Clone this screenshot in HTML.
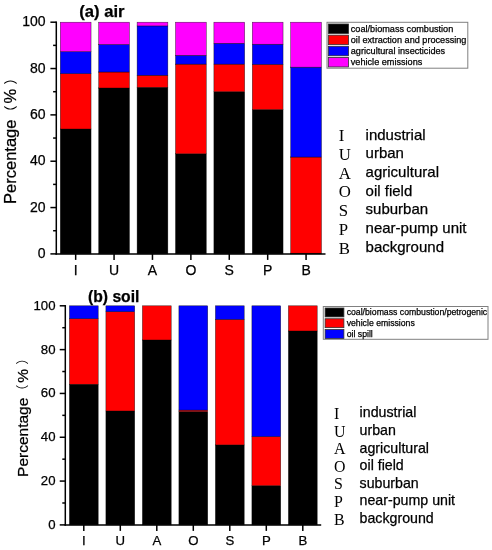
<!DOCTYPE html>
<html><head><meta charset="utf-8"><title>Source apportionment</title>
<style>
html,body{margin:0;padding:0;background:#fff;}
svg{display:block;}
text{font-family:"Liberation Sans","Noto Sans CJK SC",sans-serif;fill:#000;stroke:#000;stroke-width:0.25px;}
text.s{font-family:"Liberation Serif",serif;stroke:none;}
tspan.p{stroke:none;}
</style></head><body>
<svg width="492" height="550" viewBox="0 0 492 550">
<rect x="0" y="0" width="492" height="550" fill="#fff"/>
<rect x="60.30" y="129.01" width="30.75" height="124.89" fill="#000" stroke="#000" stroke-opacity="0.75" stroke-width="0.5"/>
<rect x="60.30" y="73.64" width="30.75" height="55.38" fill="#ff0000" stroke="#000" stroke-opacity="0.75" stroke-width="0.5"/>
<rect x="60.30" y="51.63" width="30.75" height="22.01" fill="#0000ff" stroke="#000" stroke-opacity="0.75" stroke-width="0.5"/>
<rect x="60.30" y="22.20" width="30.75" height="29.43" fill="#ff00ff" stroke="#000" stroke-opacity="0.75" stroke-width="0.5"/>
<rect x="98.70" y="88.00" width="30.75" height="165.90" fill="#000" stroke="#000" stroke-opacity="0.75" stroke-width="0.5"/>
<rect x="98.70" y="72.02" width="30.75" height="15.99" fill="#ff0000" stroke="#000" stroke-opacity="0.75" stroke-width="0.5"/>
<rect x="98.70" y="44.44" width="30.75" height="27.57" fill="#0000ff" stroke="#000" stroke-opacity="0.75" stroke-width="0.5"/>
<rect x="98.70" y="22.20" width="30.75" height="22.24" fill="#ff00ff" stroke="#000" stroke-opacity="0.75" stroke-width="0.5"/>
<rect x="137.10" y="87.31" width="30.75" height="166.59" fill="#000" stroke="#000" stroke-opacity="0.75" stroke-width="0.5"/>
<rect x="137.10" y="75.26" width="30.75" height="12.05" fill="#ff0000" stroke="#000" stroke-opacity="0.75" stroke-width="0.5"/>
<rect x="137.10" y="25.91" width="30.75" height="49.35" fill="#0000ff" stroke="#000" stroke-opacity="0.75" stroke-width="0.5"/>
<rect x="137.10" y="22.20" width="30.75" height="3.71" fill="#ff00ff" stroke="#000" stroke-opacity="0.75" stroke-width="0.5"/>
<rect x="175.50" y="153.81" width="30.75" height="100.09" fill="#000" stroke="#000" stroke-opacity="0.75" stroke-width="0.5"/>
<rect x="175.50" y="64.14" width="30.75" height="89.67" fill="#ff0000" stroke="#000" stroke-opacity="0.75" stroke-width="0.5"/>
<rect x="175.50" y="55.33" width="30.75" height="8.80" fill="#0000ff" stroke="#000" stroke-opacity="0.75" stroke-width="0.5"/>
<rect x="175.50" y="22.20" width="30.75" height="33.13" fill="#ff00ff" stroke="#000" stroke-opacity="0.75" stroke-width="0.5"/>
<rect x="213.90" y="91.71" width="30.75" height="162.19" fill="#000" stroke="#000" stroke-opacity="0.75" stroke-width="0.5"/>
<rect x="213.90" y="64.14" width="30.75" height="27.57" fill="#ff0000" stroke="#000" stroke-opacity="0.75" stroke-width="0.5"/>
<rect x="213.90" y="43.28" width="30.75" height="20.85" fill="#0000ff" stroke="#000" stroke-opacity="0.75" stroke-width="0.5"/>
<rect x="213.90" y="22.20" width="30.75" height="21.08" fill="#ff00ff" stroke="#000" stroke-opacity="0.75" stroke-width="0.5"/>
<rect x="252.30" y="109.55" width="30.75" height="144.35" fill="#000" stroke="#000" stroke-opacity="0.75" stroke-width="0.5"/>
<rect x="252.30" y="64.37" width="30.75" height="45.18" fill="#ff0000" stroke="#000" stroke-opacity="0.75" stroke-width="0.5"/>
<rect x="252.30" y="44.21" width="30.75" height="20.16" fill="#0000ff" stroke="#000" stroke-opacity="0.75" stroke-width="0.5"/>
<rect x="252.30" y="22.20" width="30.75" height="22.01" fill="#ff00ff" stroke="#000" stroke-opacity="0.75" stroke-width="0.5"/>
<rect x="290.70" y="253.20" width="30.75" height="0.70" fill="#000" stroke="#000" stroke-opacity="0.75" stroke-width="0.5"/>
<rect x="290.70" y="157.05" width="30.75" height="96.16" fill="#ff0000" stroke="#000" stroke-opacity="0.75" stroke-width="0.5"/>
<rect x="290.70" y="67.15" width="30.75" height="89.90" fill="#0000ff" stroke="#000" stroke-opacity="0.75" stroke-width="0.5"/>
<rect x="290.70" y="22.20" width="30.75" height="44.95" fill="#ff00ff" stroke="#000" stroke-opacity="0.75" stroke-width="0.5"/>
<line x1="56.30" y1="21.45" x2="56.30" y2="254.65" stroke="#000" stroke-width="1.5"/>
<line x1="55.55" y1="253.90" x2="325.50" y2="253.90" stroke="#000" stroke-width="1.5"/>
<line x1="50.40" y1="253.90" x2="56.30" y2="253.90" stroke="#000" stroke-width="1.5"/>
<text x="45.50" y="258.11" font-size="14" text-anchor="end">0</text>
<line x1="53.10" y1="230.73" x2="56.30" y2="230.73" stroke="#000" stroke-width="1.5"/>
<line x1="50.40" y1="207.56" x2="56.30" y2="207.56" stroke="#000" stroke-width="1.5"/>
<text x="45.50" y="211.77" font-size="14" text-anchor="end">20</text>
<line x1="53.10" y1="184.39" x2="56.30" y2="184.39" stroke="#000" stroke-width="1.5"/>
<line x1="50.40" y1="161.22" x2="56.30" y2="161.22" stroke="#000" stroke-width="1.5"/>
<text x="45.50" y="165.43" font-size="14" text-anchor="end">40</text>
<line x1="53.10" y1="138.05" x2="56.30" y2="138.05" stroke="#000" stroke-width="1.5"/>
<line x1="50.40" y1="114.88" x2="56.30" y2="114.88" stroke="#000" stroke-width="1.5"/>
<text x="45.50" y="119.09" font-size="14" text-anchor="end">60</text>
<line x1="53.10" y1="91.71" x2="56.30" y2="91.71" stroke="#000" stroke-width="1.5"/>
<line x1="50.40" y1="68.54" x2="56.30" y2="68.54" stroke="#000" stroke-width="1.5"/>
<text x="45.50" y="72.75" font-size="14" text-anchor="end">80</text>
<line x1="53.10" y1="45.37" x2="56.30" y2="45.37" stroke="#000" stroke-width="1.5"/>
<line x1="50.40" y1="22.20" x2="56.30" y2="22.20" stroke="#000" stroke-width="1.5"/>
<text x="45.50" y="26.41" font-size="14" text-anchor="end">100</text>
<line x1="75.67" y1="253.90" x2="75.67" y2="259.90" stroke="#000" stroke-width="1.5"/>
<text x="75.67" y="275.30" font-size="14" text-anchor="middle">I</text>
<line x1="114.07" y1="253.90" x2="114.07" y2="259.90" stroke="#000" stroke-width="1.5"/>
<text x="114.07" y="275.30" font-size="14" text-anchor="middle">U</text>
<line x1="152.47" y1="253.90" x2="152.47" y2="259.90" stroke="#000" stroke-width="1.5"/>
<text x="152.47" y="275.30" font-size="14" text-anchor="middle">A</text>
<line x1="190.88" y1="253.90" x2="190.88" y2="259.90" stroke="#000" stroke-width="1.5"/>
<text x="190.88" y="275.30" font-size="14" text-anchor="middle">O</text>
<line x1="229.27" y1="253.90" x2="229.27" y2="259.90" stroke="#000" stroke-width="1.5"/>
<text x="229.27" y="275.30" font-size="14" text-anchor="middle">S</text>
<line x1="267.68" y1="253.90" x2="267.68" y2="259.90" stroke="#000" stroke-width="1.5"/>
<text x="267.68" y="275.30" font-size="14" text-anchor="middle">P</text>
<line x1="306.07" y1="253.90" x2="306.07" y2="259.90" stroke="#000" stroke-width="1.5"/>
<text x="306.07" y="275.30" font-size="14" text-anchor="middle">B</text>
<text x="79.30" y="17.20" font-size="16.6" font-weight="bold">(a) air</text>
<text transform="translate(15.60,203.95) rotate(-90)" font-size="16.5">Percentage<tspan dx="0.44" dy="-1.10" font-size="13.53" class="p">（</tspan><tspan dx="1.96" dy="1.10">%</tspan><tspan dx="4.54" dy="-1.10" font-size="13.53" class="p">）</tspan></text>
<rect x="327.00" y="22.30" width="140.80" height="45.90" fill="#fff" stroke="#808080" stroke-width="1"/>
<rect x="328.30" y="24.00" width="20.30" height="9.50" fill="#000" stroke="#303030" stroke-width="0.8"/>
<text x="350.80" y="31.90" font-size="9.15">coal/biomass combustion</text>
<rect x="328.30" y="35.15" width="20.30" height="9.50" fill="#ff0000" stroke="#303030" stroke-width="0.8"/>
<text x="350.80" y="43.05" font-size="9.15">oil extraction and processing</text>
<rect x="328.30" y="46.30" width="20.30" height="9.50" fill="#0000ff" stroke="#303030" stroke-width="0.8"/>
<text x="350.80" y="54.20" font-size="9.15">agricultural insecticides</text>
<rect x="328.30" y="57.45" width="20.30" height="9.50" fill="#ff00ff" stroke="#303030" stroke-width="0.8"/>
<text x="350.80" y="65.35" font-size="9.15">vehicle emissions</text>
<text x="338.70" y="141.30" font-size="16.8" class="s">I</text>
<text x="365.60" y="139.60" font-size="15">industrial</text>
<text x="338.70" y="160.00" font-size="16.8" class="s">U</text>
<text x="365.60" y="158.30" font-size="15">urban</text>
<text x="338.70" y="178.70" font-size="16.8" class="s">A</text>
<text x="365.60" y="177.00" font-size="15">agricultural</text>
<text x="338.70" y="197.40" font-size="16.8" class="s">O</text>
<text x="365.60" y="195.70" font-size="15">oil field</text>
<text x="338.70" y="216.10" font-size="16.8" class="s">S</text>
<text x="365.60" y="214.40" font-size="15">suburban</text>
<text x="338.70" y="234.80" font-size="16.8" class="s">P</text>
<text x="365.60" y="233.10" font-size="15">near-pump unit</text>
<text x="338.70" y="253.50" font-size="16.8" class="s">B</text>
<text x="365.60" y="251.80" font-size="15">background</text>
<rect x="69.40" y="384.24" width="28.80" height="140.66" fill="#000" stroke="#000" stroke-opacity="0.75" stroke-width="0.5"/>
<rect x="69.40" y="318.73" width="28.80" height="65.51" fill="#ff0000" stroke="#000" stroke-opacity="0.75" stroke-width="0.5"/>
<rect x="69.40" y="305.80" width="28.80" height="12.93" fill="#0000ff" stroke="#000" stroke-opacity="0.75" stroke-width="0.5"/>
<rect x="105.90" y="410.97" width="28.80" height="113.93" fill="#000" stroke="#000" stroke-opacity="0.75" stroke-width="0.5"/>
<rect x="105.90" y="311.72" width="28.80" height="99.25" fill="#ff0000" stroke="#000" stroke-opacity="0.75" stroke-width="0.5"/>
<rect x="105.90" y="305.80" width="28.80" height="5.92" fill="#0000ff" stroke="#000" stroke-opacity="0.75" stroke-width="0.5"/>
<rect x="142.40" y="339.98" width="28.80" height="184.92" fill="#000" stroke="#000" stroke-opacity="0.75" stroke-width="0.5"/>
<rect x="142.40" y="305.80" width="28.80" height="34.18" fill="#ff0000" stroke="#000" stroke-opacity="0.75" stroke-width="0.5"/>
<rect x="178.90" y="411.63" width="28.80" height="113.27" fill="#000" stroke="#000" stroke-opacity="0.75" stroke-width="0.5"/>
<rect x="178.90" y="410.09" width="28.80" height="1.53" fill="#ff0000" stroke="#000" stroke-opacity="0.75" stroke-width="0.5"/>
<rect x="178.90" y="305.80" width="28.80" height="104.29" fill="#0000ff" stroke="#000" stroke-opacity="0.75" stroke-width="0.5"/>
<rect x="215.40" y="444.93" width="28.80" height="79.97" fill="#000" stroke="#000" stroke-opacity="0.75" stroke-width="0.5"/>
<rect x="215.40" y="319.38" width="28.80" height="125.54" fill="#ff0000" stroke="#000" stroke-opacity="0.75" stroke-width="0.5"/>
<rect x="215.40" y="305.80" width="28.80" height="13.58" fill="#0000ff" stroke="#000" stroke-opacity="0.75" stroke-width="0.5"/>
<rect x="251.90" y="485.68" width="28.80" height="39.22" fill="#000" stroke="#000" stroke-opacity="0.75" stroke-width="0.5"/>
<rect x="251.90" y="436.60" width="28.80" height="49.08" fill="#ff0000" stroke="#000" stroke-opacity="0.75" stroke-width="0.5"/>
<rect x="251.90" y="305.80" width="28.80" height="130.80" fill="#0000ff" stroke="#000" stroke-opacity="0.75" stroke-width="0.5"/>
<rect x="288.40" y="331.00" width="28.80" height="193.90" fill="#000" stroke="#000" stroke-opacity="0.75" stroke-width="0.5"/>
<rect x="288.40" y="305.80" width="28.80" height="25.20" fill="#ff0000" stroke="#000" stroke-opacity="0.75" stroke-width="0.5"/>
<line x1="65.30" y1="305.05" x2="65.30" y2="525.65" stroke="#000" stroke-width="1.5"/>
<line x1="64.55" y1="524.90" x2="321.20" y2="524.90" stroke="#000" stroke-width="1.5"/>
<line x1="59.72" y1="524.90" x2="65.30" y2="524.90" stroke="#000" stroke-width="1.5"/>
<text x="55.50" y="528.83" font-size="13.2" text-anchor="end">0</text>
<line x1="62.28" y1="502.99" x2="65.30" y2="502.99" stroke="#000" stroke-width="1.5"/>
<line x1="59.72" y1="481.08" x2="65.30" y2="481.08" stroke="#000" stroke-width="1.5"/>
<text x="55.50" y="485.01" font-size="13.2" text-anchor="end">20</text>
<line x1="62.28" y1="459.17" x2="65.30" y2="459.17" stroke="#000" stroke-width="1.5"/>
<line x1="59.72" y1="437.26" x2="65.30" y2="437.26" stroke="#000" stroke-width="1.5"/>
<text x="55.50" y="441.19" font-size="13.2" text-anchor="end">40</text>
<line x1="62.28" y1="415.35" x2="65.30" y2="415.35" stroke="#000" stroke-width="1.5"/>
<line x1="59.72" y1="393.44" x2="65.30" y2="393.44" stroke="#000" stroke-width="1.5"/>
<text x="55.50" y="397.37" font-size="13.2" text-anchor="end">60</text>
<line x1="62.28" y1="371.53" x2="65.30" y2="371.53" stroke="#000" stroke-width="1.5"/>
<line x1="59.72" y1="349.62" x2="65.30" y2="349.62" stroke="#000" stroke-width="1.5"/>
<text x="55.50" y="353.55" font-size="13.2" text-anchor="end">80</text>
<line x1="62.28" y1="327.71" x2="65.30" y2="327.71" stroke="#000" stroke-width="1.5"/>
<line x1="59.72" y1="305.80" x2="65.30" y2="305.80" stroke="#000" stroke-width="1.5"/>
<text x="55.50" y="309.73" font-size="13.2" text-anchor="end">100</text>
<line x1="83.80" y1="524.90" x2="83.80" y2="530.90" stroke="#000" stroke-width="1.5"/>
<text x="83.80" y="544.80" font-size="13.2" text-anchor="middle">I</text>
<line x1="120.30" y1="524.90" x2="120.30" y2="530.90" stroke="#000" stroke-width="1.5"/>
<text x="120.30" y="544.80" font-size="13.2" text-anchor="middle">U</text>
<line x1="156.80" y1="524.90" x2="156.80" y2="530.90" stroke="#000" stroke-width="1.5"/>
<text x="156.80" y="544.80" font-size="13.2" text-anchor="middle">A</text>
<line x1="193.30" y1="524.90" x2="193.30" y2="530.90" stroke="#000" stroke-width="1.5"/>
<text x="193.30" y="544.80" font-size="13.2" text-anchor="middle">O</text>
<line x1="229.80" y1="524.90" x2="229.80" y2="530.90" stroke="#000" stroke-width="1.5"/>
<text x="229.80" y="544.80" font-size="13.2" text-anchor="middle">S</text>
<line x1="266.30" y1="524.90" x2="266.30" y2="530.90" stroke="#000" stroke-width="1.5"/>
<text x="266.30" y="544.80" font-size="13.2" text-anchor="middle">P</text>
<line x1="302.80" y1="524.90" x2="302.80" y2="530.90" stroke="#000" stroke-width="1.5"/>
<text x="302.80" y="544.80" font-size="13.2" text-anchor="middle">B</text>
<text x="88.00" y="302.40" font-size="15.7" font-weight="bold">(b) soil</text>
<text transform="translate(27.60,476.95) rotate(-90)" font-size="15.5">Percentage<tspan dx="0.42" dy="-1.04" font-size="12.71" class="p">（</tspan><tspan dx="1.85" dy="1.04">%</tspan><tspan dx="4.29" dy="-1.04" font-size="12.71" class="p">）</tspan></text>
<rect x="323.30" y="306.50" width="164.70" height="32.80" fill="#fff" stroke="#808080" stroke-width="1"/>
<rect x="325.10" y="308.00" width="18.80" height="8.90" fill="#000" stroke="#303030" stroke-width="0.8"/>
<text x="346.70" y="315.40" font-size="8.7">coal/biomass combustion/petrogenic</text>
<rect x="325.10" y="318.75" width="18.80" height="8.90" fill="#ff0000" stroke="#303030" stroke-width="0.8"/>
<text x="346.70" y="326.15" font-size="8.7">vehicle emissions</text>
<rect x="325.10" y="329.50" width="18.80" height="8.90" fill="#0000ff" stroke="#303030" stroke-width="0.8"/>
<text x="346.70" y="336.90" font-size="8.7">oil spill</text>
<text x="333.90" y="418.90" font-size="15.9" class="s">I</text>
<text x="359.60" y="417.30" font-size="14.2">industrial</text>
<text x="333.90" y="436.50" font-size="15.9" class="s">U</text>
<text x="359.60" y="434.90" font-size="14.2">urban</text>
<text x="333.90" y="454.10" font-size="15.9" class="s">A</text>
<text x="359.60" y="452.50" font-size="14.2">agricultural</text>
<text x="333.90" y="471.70" font-size="15.9" class="s">O</text>
<text x="359.60" y="470.10" font-size="14.2">oil field</text>
<text x="333.90" y="489.30" font-size="15.9" class="s">S</text>
<text x="359.60" y="487.70" font-size="14.2">suburban</text>
<text x="333.90" y="506.90" font-size="15.9" class="s">P</text>
<text x="359.60" y="505.30" font-size="14.2">near-pump unit</text>
<text x="333.90" y="524.50" font-size="15.9" class="s">B</text>
<text x="359.60" y="522.90" font-size="14.2">background</text>
</svg>
</body></html>
